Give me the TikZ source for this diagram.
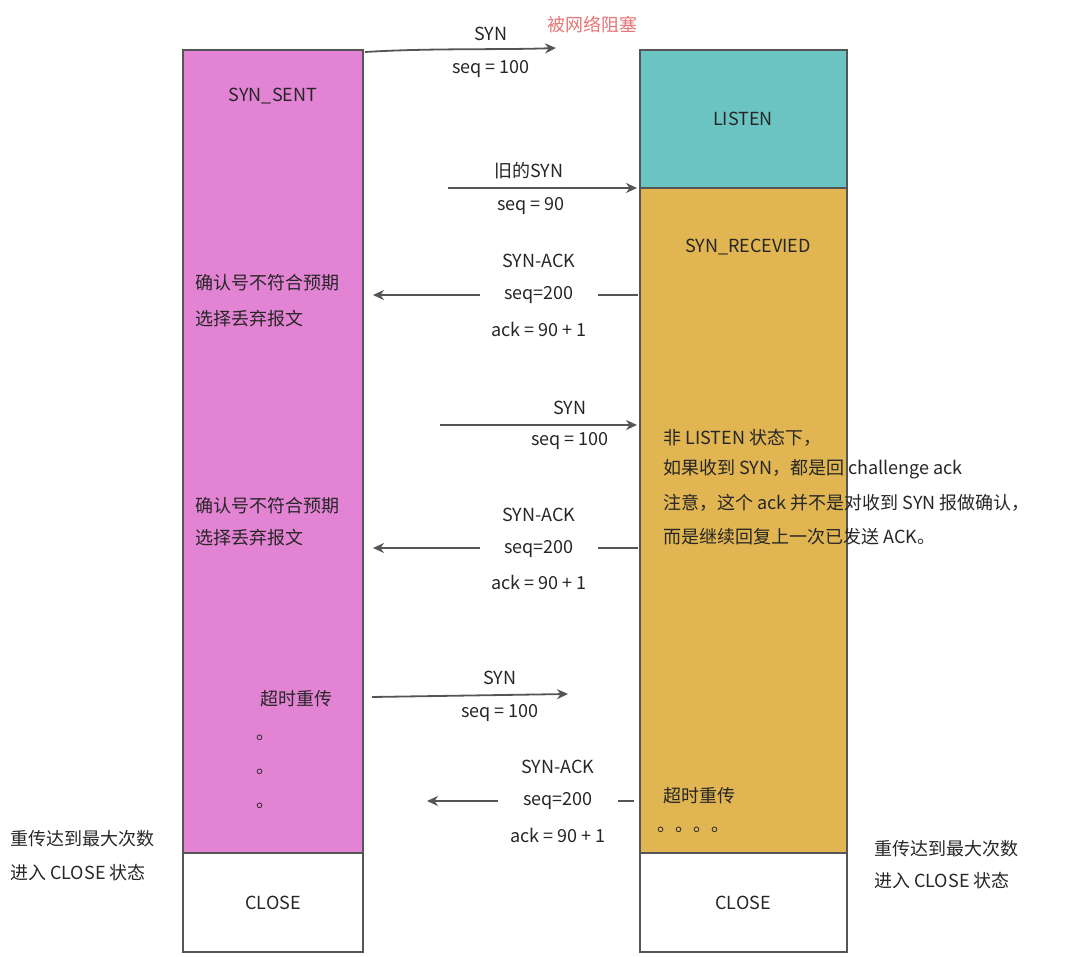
\documentclass[tikz,border=0pt]{standalone}
\usepackage{fontspec}
\setmainfont{Noto Sans CJK SC}
\usetikzlibrary{arrows.meta}
\definecolor{pinkc}{HTML}{E383D4}
\definecolor{tealc}{HTML}{6CC4C2}
\definecolor{goldc}{HTML}{E0B552}
\definecolor{edgec}{HTML}{555555}
\definecolor{redc}{HTML}{E87575}
\tikzset{
  bar/.style={draw=edgec,line width=2pt},
  lbl/.style={font=\fontsize{18}{21}\selectfont,text=black!85,inner sep=0pt},
  llbl/.style={lbl,anchor=west},
  msg/.style={draw=edgec,line width=1.8pt,-{Stealth[length=11pt,width=10pt]}}
}
\begin{document}
\begin{tikzpicture}[x=1pt,y=-1pt]
\useasboundingbox (0,0) rectangle (1080,957);
% bars
\draw[bar,fill=pinkc] (183,50) rectangle (363,853);
\draw[bar,fill=white] (183,853) rectangle (363,952);
\draw[bar,fill=tealc] (640,50) rectangle (847,188);
\draw[bar,fill=goldc] (640,188) rectangle (847,853);
\draw[bar,fill=white] (640,853) rectangle (847,952);
\node[lbl] (synsent) at (273,96) {SYN\_SENT};
\node[lbl] (listen) at (743,119) {LISTEN};
\node[lbl] (synrcv) at (748,247) {SYN\_RECEVIED};
\node[lbl] (closeL) at (273,903) {CLOSE};
\node[lbl] (closeR) at (743,903) {CLOSE};
% message 1
\coordinate (a1) at (365,52); \coordinate (b1) at (556,48);
\draw[msg] (a1) .. controls (430,48) and (500,50) .. (b1);
\node[lbl] (m1a) at (491,34) {SYN};
\node[lbl] (m1b) at (491,69) {seq = 100};
\node[lbl,text=redc] (blk) at (592,25) {被网络阻塞};
% message 2
\coordinate (a2) at (448,188); \coordinate (b2) at (637,188);
\draw[msg] (a2) -- (b2);
\node[lbl] (m2a) at (529,171) {旧的SYN};
\node[lbl] (m2b) at (531,206) {seq = 90};
% message 3
\coordinate (a3) at (638,295); \coordinate (b3) at (373,295);
\draw[msg] (a3) -- (b3);
\node[lbl] (m3a) at (539,261) {SYN-ACK};
\node[lbl] (m3c) at (539,329) {ack = 90 + 1};
\node[llbl] (n1) at (195,283) {确认号不符合预期};
\node[llbl] (n2) at (195,319) {选择丢弃报文};
% message 4
\coordinate (a4) at (440,425); \coordinate (b4) at (637,425);
\draw[msg] (a4) -- (b4);
\node[lbl] (m4a) at (570,408) {SYN};
\node[lbl] (m4b) at (570,441) {seq = 100};
\node[llbl] (r1) at (663,438) {非 LISTEN 状态下，};
\node[llbl] (r2) at (663,469) {如果收到 SYN，都是回 challenge ack};
\node[llbl] (r3) at (663,503) {注意，这个 ack 并不是对收到 SYN 报做确认，};
\node[llbl] (r4) at (663,537) {而是继续回复上一次已发送 ACK。};
% message 5
\node[llbl] (n3) at (195,506) {确认号不符合预期};
\node[llbl] (n4) at (195,538) {选择丢弃报文};
\coordinate (a5) at (638,548); \coordinate (b5) at (373,548);
\draw[msg] (a5) -- (b5);
\node[lbl] (m5a) at (539,515) {SYN-ACK};
\node[lbl] (m5c) at (539,582) {ack = 90 + 1};
% message 6
\node[llbl] (t1) at (260,699) {超时重传};
\node[lbl] (d1) at (265,738) {。};
\node[lbl] (d2) at (265,772) {。};
\node[lbl] (d3) at (265,806) {。};
\coordinate (a6) at (372,697); \coordinate (b6) at (568,694);
\draw[msg] (a6) -- (b6);
\node[lbl] (m6a) at (500,678) {SYN};
\node[lbl] (m6b) at (500,713) {seq = 100};
% message 7
\coordinate (a7) at (634,801); \coordinate (b7) at (427,801);
\draw[msg] (a7) -- (b7);
\node[lbl] (m7a) at (558,767) {SYN-ACK};
\node[lbl] (m7c) at (558,835) {ack = 90 + 1};
\node[llbl] (t2) at (663,796) {超时重传};
\node[llbl] (t3) at (657,830) {。。。。};
\node[llbl] (c1) at (10,839) {重传达到最大次数};
\node[llbl] (c2) at (10,873) {进入 CLOSE 状态};
\node[llbl] (c3) at (874,849) {重传达到最大次数};
\node[llbl] (c4) at (874,881) {进入 CLOSE 状态};
% seq labels with gaps in arrows
\fill[white] (480,284) rectangle (598,306);
\node[lbl] (m3b) at (539,295) {seq=200};
\fill[white] (480,537) rectangle (598,559);
\node[lbl] (m5b) at (539,549) {seq=200};
\fill[white] (498,790) rectangle (618,812);
\node[lbl] (m7b) at (558,801) {seq=200};
\end{tikzpicture}
\end{document}
